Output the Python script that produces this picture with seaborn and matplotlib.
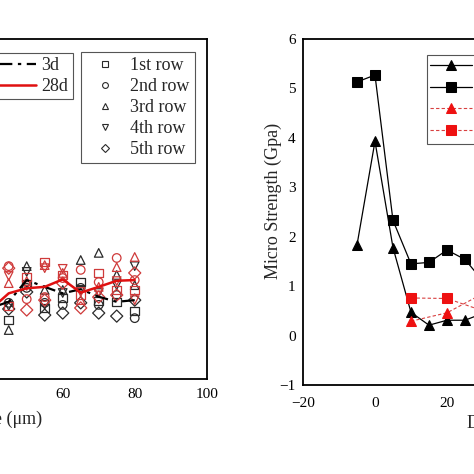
import seaborn as sns
import matplotlib.pyplot as plt
import pandas as pd
from matplotlib.lines import Line2D

# ---------------- left panel: scatter of 5 rows + trend lines ----------------
dist = [45, 50, 55, 60, 65, 70, 75, 80]
rows = ["1st row", "2nd row", "3rd row", "4th row", "5th row"]
row_markers = ["s", "o", "^", "v", "D"]

# 3d values (black open markers)
r1_3d = [17.4, 27.9, 20.9, 23.8, 28.5, 22.9, 22.6, 20.0]
r2_3d = [22.4, 26.8, 22.4, 21.8, 26.8, 21.8, 24.7, 17.9]
r3_3d = [14.4, 33.2, 26.2, 26.2, 35.0, 37.1, 30.6, 27.6]
r4_3d = [21.5, 31.5, 21.8, 25.3, 26.2, 25.3, 27.6, 33.2]
r5_3d = [20.6, 25.6, 18.8, 19.4, 22.4, 19.4, 18.5, 23.2]

# 28d values (red open markers)
r1_28d = [21.5, 30.0, 34.4, 30.6, 24.7, 31.2, 26.2, 26.2]
r2_28d = [33.2, 23.5, 24.1, 29.7, 32.1, 28.5, 35.6, 29.1]
r3_28d = [28.2, 28.8, 33.5, 31.2, 23.2, 27.1, 32.9, 35.9]
r4_28d = [30.3, 27.4, 32.6, 32.4, 25.6, 25.6, 28.8, 23.2]
r5_28d = [32.6, 20.3, 23.2, 28.2, 20.9, 24.1, 24.7, 31.2]

trend_x = [40, 45, 50, 55, 60, 65, 70, 75, 80]
trend_3d = [20.9, 22.7, 29.1, 27.1, 25.2, 26.4, 24.2, 22.7, 23.2]
trend_28d = [20.5, 25.2, 26.7, 27.1, 29.3, 25.4, 27.1, 28.9, 29.1]

# ---------------- right panel: micro strength ----------------
x_3d = [-5, 0, 5, 10, 15, 20, 25, 30]
tri_3d = [1.83, 3.93, 1.78, 0.47, 0.21, 0.31, 0.31, 0.45]
sq_3d = [5.13, 5.27, 2.33, 1.45, 1.48, 1.73, 1.54, 1.10]
x_28d = [10, 20, 30]
tri_28d = [0.29, 0.46, 0.85]
sq_28d = [0.76, 0.75, 0.50]

rows_3d = [r1_3d, r2_3d, r3_3d, r4_3d, r5_3d]
rows_28d = [r1_28d, r2_28d, r3_28d, r4_28d, r5_28d]
recs = []
for age, vals in [("3d", rows_3d), ("28d", rows_28d)]:
    for rname, rv in zip(rows, vals):
        for d, v in zip(dist, rv):
            recs.append({"age": age, "row": rname, "dist": d, "val": v})
df = pd.DataFrame(recs)

sns.set_style("white")
plt.rcParams["font.family"] = ["Liberation Serif", "DejaVu Serif"]

BLACK = "#2a2a2a"
RED_MK = "#cf3a3a"
RED_LN = "#e01010"

fig = plt.figure(figsize=(4.74, 4.74), dpi=100)
axL = fig.add_axes([-0.4753, 0.2004, 0.9114, 0.7173])
axR = fig.add_axes([0.6392, 0.1878, 0.9114, 0.7300])

# left scatter
for age, col in [("3d", BLACK), ("28d", RED_MK)]:
    for rname, mk in zip(rows, row_markers):
        sub = df[(df.age == age) & (df.row == rname)]
        sns.scatterplot(data=sub, x="dist", y="val", marker=mk, s=38,
                        facecolor="none", edgecolor=col, linewidth=0.9,
                        ax=axL, legend=False)

sns.lineplot(x=trend_x, y=trend_3d, color="black", lw=1.6,
             linestyle=(0, (6, 2.5, 1.5, 2.5)), ax=axL)
sns.lineplot(x=trend_x, y=trend_28d, color=RED_LN, lw=1.8, ax=axL)

axL.set_xlim(-20, 100)
axL.set_ylim(0, 100)
axL.set_xticks([-20, 0, 20, 40, 60, 80, 100])
axL.set_yticklabels([])
axL.set_xlabel("Distance (μm)", fontsize=13, labelpad=7)
axL.set_ylabel("")

leg_lines = [Line2D([], [], color="black", lw=1.6, linestyle=(0, (6, 2.5, 1.5, 2.5))),
             Line2D([], [], color=RED_LN, lw=1.8)]
leg1 = axL.legend(leg_lines, ["3d", "28d"], loc="upper right",
                  bbox_to_anchor=(72.7 / 474, 1 - 52.7 / 474), bbox_transform=fig.transFigure,
                  fontsize=13, frameon=True, fancybox=False, framealpha=1,
                  edgecolor="#555555", borderpad=0.25, labelspacing=0.2,
                  handlelength=4.0, handletextpad=0.3, borderaxespad=0)
leg1.get_frame().set_linewidth(0.8)
axL.add_artist(leg1)

leg_mk = [Line2D([], [], marker=m, ls="none", mfc="none", mec=BLACK, ms=4.2, mew=0.8)
          for m in row_markers]
leg2 = axL.legend(leg_mk, rows, loc="upper left",
                  bbox_to_anchor=(81 / 474, 1 - 51.7 / 474), bbox_transform=fig.transFigure,
                  fontsize=13, frameon=True, fancybox=False, framealpha=1,
                  edgecolor="#555555", borderpad=0.3, labelspacing=0.22,
                  handlelength=2.1, handletextpad=0.3, borderaxespad=0)
leg2.get_frame().set_linewidth(0.8)

# right panel
sns.lineplot(x=x_3d, y=tri_3d, color="black", lw=0.9, marker="^", ms=7,
             mec="black", label="3d ITZ-1", ax=axR)
sns.lineplot(x=x_3d, y=sq_3d, color="black", lw=0.9, marker="s", ms=6.5,
             mec="black", label="3d ITZ-2", ax=axR)
sns.lineplot(x=x_28d, y=tri_28d, color="#d84040", lw=0.8, linestyle=(0, (3, 2)),
             marker="^", ms=7, mfc="#ee1111", mec="#ee1111", label="28d ITZ-1", ax=axR)
sns.lineplot(x=x_28d, y=sq_28d, color="#d84040", lw=0.8, linestyle=(0, (3, 2)),
             marker="s", ms=6.5, mfc="#ee1111", mec="#ee1111", label="28d ITZ-2", ax=axR)

axR.set_xlim(-20, 100)
axR.set_ylim(-1, 6)
axR.set_xticks([-20, 0, 20, 40, 60, 80, 100])
axR.set_yticks(range(-1, 7))
axR.set_xlabel("Distance (μm)", fontsize=13)
axR.set_ylabel("Micro Strength (Gpa)", fontsize=13)
axR.yaxis.set_label_coords(-0.0486, 0.532)
leg3 = axR.legend(loc="upper left", bbox_to_anchor=(426.7 / 474, 1 - 55 / 474),
                  bbox_transform=fig.transFigure, fontsize=13, frameon=True,
                  fancybox=False, framealpha=1, edgecolor="#555555", borderpad=0.2,
                  labelspacing=0.25, handlelength=2.3, handletextpad=0.4, borderaxespad=0)
leg3.get_frame().set_linewidth(0.8)

for ax in (axL, axR):
    for sp in ax.spines.values():
        sp.set_linewidth(1.3)
        sp.set_color("black")
    ax.tick_params(direction="in", length=5, width=1.2, labelsize=11,
                   top=False, right=False, colors="black")
axL.tick_params(axis="x", pad=6.5)
axR.tick_params(axis="x", pad=8.3)
axR.tick_params(axis="y", pad=5.2)

fig.savefig("out.png", dpi=100)
plt.close(fig)
